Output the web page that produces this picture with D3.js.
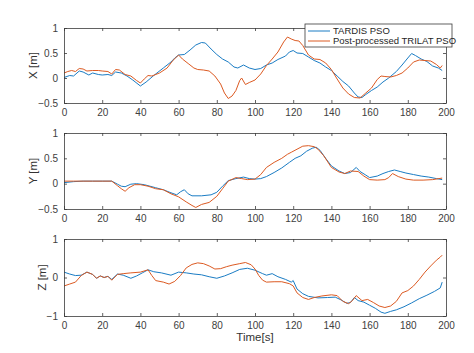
<!DOCTYPE html>
<html>
<head>
<meta charset="utf-8">
<script src="https://cdn.jsdelivr.net/npm/d3@7"></script>
<style>
  body { margin: 0; background: #fff; }
  svg { display: block; font-family: "Liberation Sans", Arial, sans-serif; }
  .tick-label { font-size: 10px; fill: #404040; }
  .ax-label { font-size: 11.5px; fill: #333; }
  .legend-text { font-size: 9.5px; fill: #262626; }
</style>
</head>
<body>
<svg id="chart" width="474" height="353"></svg>
<script>
// ---- data: [time (s), value (m)] ----
const xTardis = [[0,0.01],[3,0.05],[5,0.04],[8,0.14],[10,0.12],[13,0.06],[15,0.1],[18,0.07],[20,0.06],[23,0.07],[25,0.05],[27,0.12],[30,0.1],[33,0.04],[36,-0.04],[40,-0.16],[43,-0.08],[47,0.05],[52,0.2],[56,0.32],[58,0.4],[60,0.46],[63,0.47],[66,0.56],[69,0.66],[72,0.71],[74,0.7],[77,0.58],[80,0.47],[83,0.38],[86,0.32],[89,0.22],[91,0.2],[94,0.26],[97,0.2],[100,0.17],[103,0.19],[106,0.26],[109,0.3],[112,0.37],[116,0.44],[118,0.52],[120,0.55],[122,0.5],[125,0.49],[128,0.42],[131,0.35],[134,0.3],[137,0.22],[140,0.15],[143,0.04],[146,-0.07],[149,-0.16],[152,-0.3],[154,-0.38],[156,-0.39],[158,-0.33],[161,-0.25],[164,-0.18],[167,-0.08],[170,0.0],[174,0.13],[177,0.26],[180,0.4],[182,0.49],[184,0.45],[187,0.38],[190,0.33],[193,0.24],[196,0.2],[198,0.15]];
const xTrilat = [[0,0.1],[2,0.13],[4,0.15],[6,0.13],[8,0.19],[10,0.18],[12,0.14],[15,0.15],[18,0.15],[20,0.14],[23,0.13],[25,0.08],[27,0.17],[29,0.16],[32,0.07],[35,0.04],[38,-0.05],[40,-0.1],[42,-0.02],[44,0.05],[46,0.04],[50,0.1],[54,0.2],[57,0.35],[60,0.46],[62,0.38],[65,0.29],[68,0.2],[70,0.17],[73,0.16],[76,0.14],[79,0.04],[82,-0.12],[84,-0.3],[86,-0.41],[88,-0.36],[90,-0.25],[92,-0.05],[93,0.0],[95,-0.13],[97,-0.09],[100,-0.04],[103,0.08],[106,0.25],[109,0.38],[112,0.52],[115,0.72],[117,0.82],[119,0.78],[121,0.75],[123,0.74],[125,0.65],[128,0.46],[131,0.38],[134,0.37],[137,0.3],[140,0.17],[143,-0.02],[146,-0.2],[149,-0.32],[152,-0.39],[155,-0.4],[158,-0.3],[161,-0.2],[164,-0.03],[166,0.04],[168,0.03],[171,0.02],[174,0.05],[177,0.1],[180,0.2],[183,0.32],[186,0.36],[189,0.35],[192,0.34],[195,0.27],[197,0.2],[198,0.25]];

const yTardis = [[0,0.02],[5,0.04],[10,0.05],[15,0.05],[20,0.05],[25,0.05],[28,-0.01],[30,-0.05],[32,-0.06],[35,-0.01],[38,0.0],[42,-0.02],[45,-0.05],[48,-0.08],[52,-0.12],[56,-0.18],[59,-0.22],[61,-0.16],[63,-0.12],[65,-0.2],[67,-0.24],[72,-0.24],[77,-0.22],[80,-0.17],[83,-0.05],[86,0.06],[90,0.1],[94,0.13],[97,0.1],[100,0.09],[103,0.1],[106,0.14],[110,0.22],[114,0.31],[118,0.42],[121,0.5],[124,0.55],[127,0.64],[130,0.7],[132,0.72],[134,0.66],[137,0.5],[140,0.35],[144,0.25],[147,0.2],[150,0.22],[153,0.32],[155,0.24],[158,0.17],[160,0.12],[164,0.15],[167,0.2],[170,0.24],[173,0.27],[176,0.24],[179,0.21],[183,0.18],[187,0.15],[191,0.13],[195,0.1],[198,0.08]];
const yTrilat = [[0,0.05],[5,0.05],[10,0.05],[15,0.05],[20,0.05],[25,0.05],[28,-0.04],[30,-0.1],[32,-0.15],[34,-0.08],[37,-0.02],[40,-0.02],[44,-0.05],[48,-0.1],[52,-0.12],[56,-0.2],[60,-0.26],[64,-0.36],[67,-0.43],[69,-0.47],[72,-0.41],[76,-0.37],[80,-0.25],[83,-0.1],[86,0.05],[90,0.12],[93,0.1],[96,0.08],[100,0.09],[103,0.18],[106,0.32],[110,0.42],[114,0.5],[117,0.58],[119,0.62],[122,0.68],[125,0.74],[128,0.75],[131,0.73],[133,0.68],[136,0.55],[140,0.32],[144,0.23],[147,0.2],[150,0.25],[154,0.24],[157,0.15],[160,0.08],[164,0.07],[168,0.08],[170,0.12],[172,0.2],[175,0.14],[179,0.09],[183,0.07],[188,0.07],[193,0.08],[198,0.11]];

const zTardis = [[0,0.14],[3,0.09],[6,0.05],[9,0.06],[12,0.14],[15,0.08],[17,-0.02],[19,0.04],[21,0.0],[23,0.03],[25,-0.05],[28,0.09],[31,0.06],[35,-0.02],[38,0.04],[41,0.12],[44,0.2],[47,0.15],[51,0.12],[56,0.06],[60,0.14],[64,0.12],[68,0.09],[72,0.07],[76,0.02],[80,-0.02],[84,0.04],[88,0.12],[92,0.21],[96,0.24],[100,0.19],[104,0.1],[106,0.06],[109,0.1],[112,0.02],[116,-0.05],[119,-0.12],[120,-0.08],[122,-0.3],[125,-0.42],[128,-0.49],[133,-0.53],[138,-0.52],[142,-0.51],[145,-0.58],[148,-0.67],[150,-0.65],[152,-0.52],[154,-0.6],[157,-0.64],[160,-0.72],[163,-0.8],[166,-0.9],[168,-0.93],[171,-0.88],[174,-0.84],[178,-0.76],[182,-0.66],[186,-0.55],[190,-0.46],[194,-0.36],[197,-0.27],[198,-0.12]];
const zTrilat = [[0,-0.22],[3,-0.17],[6,-0.12],[9,0.05],[12,0.14],[15,0.08],[17,-0.02],[19,0.04],[21,0.0],[23,0.03],[25,-0.07],[28,0.08],[31,0.1],[35,0.12],[40,0.14],[44,0.2],[46,0.05],[48,-0.08],[52,-0.12],[55,-0.17],[58,-0.1],[61,0.05],[64,0.25],[67,0.34],[70,0.38],[73,0.36],[76,0.3],[79,0.22],[82,0.23],[85,0.28],[88,0.32],[92,0.36],[95,0.39],[98,0.33],[100,0.22],[102,0.05],[104,-0.07],[106,-0.12],[110,-0.11],[114,-0.11],[118,-0.16],[120,-0.22],[122,-0.4],[125,-0.52],[128,-0.57],[131,-0.52],[135,-0.48],[140,-0.45],[143,-0.47],[146,-0.62],[149,-0.68],[151,-0.6],[153,-0.47],[156,-0.6],[159,-0.57],[162,-0.65],[165,-0.74],[168,-0.78],[171,-0.74],[174,-0.62],[177,-0.4],[180,-0.34],[183,-0.22],[186,-0.05],[189,0.14],[192,0.3],[195,0.45],[197,0.53],[198,0.58]];

const timeTicks = [0, 20, 40, 60, 80, 100, 120, 140, 160, 180, 200];
const seriesNames = ["TARDIS PSO", "Post-processed TRILAT PSO"];
const colors = ["#1a7cc4", "#dc5a22"];

// panel layout
const panels = [
    { label: "X [m]", domain: [-0.5, 1], ticks: [-0.5, 0, 0.5, 1], top: 28, bottom: 103, labelX: 33, data: [xTardis, xTrilat] },
    { label: "Y [m]", domain: [-0.5, 1], ticks: [-0.5, 0, 0.5, 1], top: 133, bottom: 209, labelX: 33, data: [yTardis, yTrilat] },
    { label: "Z [m]", domain: [-1, 1], ticks: [-1, 0, 1], top: 239, bottom: 316, labelX: 42, data: [zTardis, zTrilat] }
];
const left = 64, right = 446;
const frameColor = "#3a3a3a";

const svg = d3.select("#chart");
svg.append("rect").attr("width", 474).attr("height", 353).attr("fill", "#fff");

const x = d3.scaleLinear().domain([0, 200]).range([left, right]);

panels.forEach(p => {
    const y = d3.scaleLinear().domain(p.domain).range([p.bottom, p.top]);
    const g = svg.append("g");

    // lines
    const line = d3.line().x(d => x(d[0])).y(d => y(d[1]));
    p.data.forEach((series, i) => {
        g.append("path")
            .datum(series)
            .attr("fill", "none")
            .attr("stroke", colors[i])
            .attr("stroke-width", 1)
            .attr("stroke-linejoin", "round")
            .attr("d", line);
    });

    // axes: MATLAB style box, ticks inward on every side
    const tickFmt = d => d3.format("")(d);
    g.append("g").attr("transform", `translate(0,${p.bottom})`)
        .call(d3.axisBottom(x).tickValues(timeTicks).tickSizeInner(-3).tickSizeOuter(0).tickPadding(6));
    g.append("g").attr("transform", `translate(0,${p.top})`)
        .call(d3.axisTop(x).tickValues(timeTicks).tickSizeInner(-3).tickSizeOuter(0).tickFormat(""));
    g.append("g").attr("transform", `translate(${left},0)`)
        .call(d3.axisLeft(y).tickValues(p.ticks).tickSizeInner(-3).tickSizeOuter(0).tickPadding(6).tickFormat(tickFmt));
    g.append("g").attr("transform", `translate(${right},0)`)
        .call(d3.axisRight(y).tickValues(p.ticks).tickSizeInner(-3).tickSizeOuter(0).tickFormat(""));

    g.selectAll(".domain").attr("stroke", frameColor).attr("stroke-width", 0.8);
    g.selectAll(".tick line").attr("stroke", frameColor).attr("stroke-width", 0.8);
    g.selectAll(".tick text").attr("class", "tick-label").attr("font-family", null).attr("font-size", null).attr("fill", null);

    // y label
    g.append("text")
        .attr("class", "ax-label")
        .attr("transform", `translate(${p.labelX},${(p.top + p.bottom) / 2}) rotate(-90)`)
        .attr("text-anchor", "middle")
        .attr("dy", "0.35em")
        .text(p.label);
});

// x label
svg.append("text")
    .attr("class", "ax-label")
    .attr("x", (left + right) / 2)
    .attr("y", 341)
    .attr("text-anchor", "middle")
    .text("Time[s]");

// legend
const legend = svg.append("g").attr("transform", "translate(305,24)");
legend.append("rect")
    .attr("width", 147).attr("height", 23)
    .attr("fill", "#fff").attr("stroke", frameColor).attr("stroke-width", 0.8);
seriesNames.forEach((name, i) => {
    const ly = 7 + i * 10;
    legend.append("line")
        .attr("x1", 3).attr("x2", 25).attr("y1", ly).attr("y2", ly)
        .attr("stroke", colors[i]).attr("stroke-width", 1);
    legend.append("text")
        .attr("class", "legend-text")
        .attr("x", 28).attr("y", ly).attr("dy", "0.35em")
        .text(name);
});
</script>
</body>
</html>
